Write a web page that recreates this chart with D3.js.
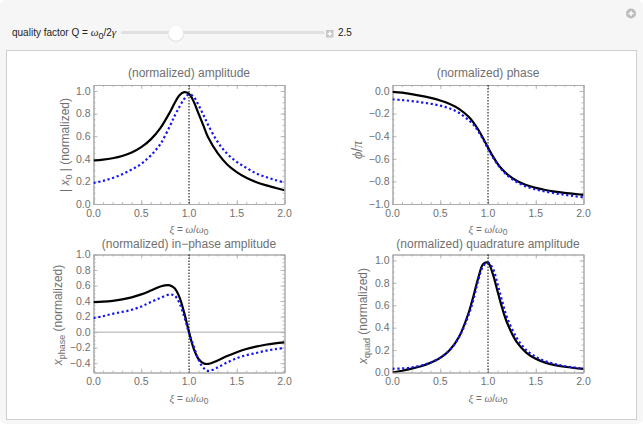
<!DOCTYPE html>
<html>
<head>
<meta charset="utf-8">
<script src="https://cdnjs.cloudflare.com/ajax/libs/d3/7.8.5/d3.min.js"></script>
<style>
  html, body { margin: 0; padding: 0; background: #fff; overflow: hidden; }
  text { font-family: "Liberation Sans", Arial, sans-serif; }
  .greek { font-family: "Liberation Serif", serif; font-style: italic; }
</style>
</head>
<body>
<div id="plot"></div>
<script>
// all the data
const xi = [0, 0.1, 0.2, 0.3, 0.4, 0.5, 0.6, 0.7, 0.8, 0.85, 0.9, 0.95, 1, 1.05, 1.1, 1.15, 1.2, 1.3, 1.4, 1.5, 1.6, 1.7, 1.8, 1.9, 2];

const ampBlack = [0.385, 0.392, 0.405, 0.425, 0.456, 0.503, 0.572, 0.672, 0.812, 0.893, 0.963, 0.99, 0.975, 0.905, 0.8, 0.695, 0.59, 0.45, 0.35, 0.282, 0.232, 0.195, 0.167, 0.144, 0.122];
const ampBlue = [0.186, 0.205, 0.23, 0.263, 0.305, 0.355, 0.43, 0.53, 0.69, 0.78, 0.86, 0.93, 0.97, 0.947, 0.875, 0.79, 0.7, 0.55, 0.444, 0.373, 0.32, 0.272, 0.24, 0.213, 0.19];

const phaseBlack = [-0.008, -0.015, -0.028, -0.043, -0.061, -0.084, -0.115, -0.16, -0.231, -0.282, -0.345, -0.42, -0.5, -0.576, -0.642, -0.695, -0.736, -0.794, -0.832, -0.857, -0.876, -0.89, -0.901, -0.91, -0.92];
const phaseBlue = [-0.074, -0.08, -0.089, -0.1, -0.113, -0.13, -0.155, -0.195, -0.26, -0.3, -0.36, -0.43, -0.51, -0.585, -0.65, -0.702, -0.745, -0.805, -0.845, -0.872, -0.89, -0.905, -0.918, -0.93, -0.94];

const inPhaseBlack = [0.387, 0.392, 0.403, 0.421, 0.448, 0.486, 0.535, 0.588, 0.603, 0.565, 0.45, 0.248, 0, -0.215, -0.346, -0.4, -0.41, -0.365, -0.308, -0.258, -0.218, -0.187, -0.163, -0.145, -0.132];
const inPhaseBlue = [0.18, 0.205, 0.236, 0.26, 0.288, 0.33, 0.387, 0.44, 0.485, 0.47, 0.374, 0.2, -0.01, -0.186, -0.357, -0.46, -0.5, -0.456, -0.39, -0.336, -0.297, -0.27, -0.241, -0.22, -0.203];

const quadBlack = [0, 0.016, 0.034, 0.056, 0.086, 0.13, 0.2, 0.324, 0.54, 0.69, 0.85, 0.968, 0.98, 0.88, 0.725, 0.571, 0.444, 0.273, 0.178, 0.122, 0.088, 0.066, 0.051, 0.04, 0.032];
const quadBlue = [0.033, 0.036, 0.045, 0.062, 0.09, 0.133, 0.2, 0.32, 0.52, 0.66, 0.83, 0.95, 0.98, 0.93, 0.79, 0.63, 0.49, 0.31, 0.2, 0.14, 0.1, 0.075, 0.058, 0.045, 0.035];

const xTicks = [0, 0.5, 1, 1.5, 2];
const xMinor = d3.range(0, 2.001, 0.1);
const yTicksUnit = [0, 0.2, 0.4, 0.6, 0.8, 1];
const yTicksPhase = [0, -0.2, -0.4, -0.6, -0.8, -1];
const yTicksInPhase = [-0.4, -0.2, 0, 0.2, 0.4, 0.6, 0.8, 1];

const sliderLabel = 'quality factor Q = ';
const qualityFactor = 2.5;

const canvas_width = 643;
const canvas_height = 427;
const grey = '#707070';
const frameGrey = '#ababab';

const svg = d3.select('#plot')
  .append('svg')
  .attr('width', canvas_width)
  .attr('height', canvas_height)
  .style('display', 'block');

// page background and the white pane
svg.append('rect')
  .attr('x', 0).attr('y', 0)
  .attr('width', canvas_width).attr('height', canvas_height - 3)
  .attr('rx', 6)
  .attr('fill', '#f6f6f6');

svg.append('rect')
  .attr('x', 6.5).attr('y', 50.5)
  .attr('width', 630).attr('height', 369)
  .attr('fill', '#fff')
  .attr('stroke', '#cfcfcf');

// slider row
const sliderScale = d3.scaleLinear().domain([0.5, 8]).range([122.5, 323]);

const labelText = svg.append('text')
  .attr('x', 12).attr('y', 36)
  .attr('font-size', 10)
  .attr('fill', '#222')
  .text(sliderLabel);
labelText.append('tspan').attr('class', 'greek').attr('font-size', 11).text('ω');
labelText.append('tspan').attr('dy', 2.5).attr('font-size', 9).text('0');
labelText.append('tspan').attr('dy', -2.5).text('/2');
labelText.append('tspan').attr('class', 'greek').attr('font-size', 11).text('γ');

svg.append('line')
  .attr('x1', sliderScale.range()[0]).attr('x2', sliderScale.range()[1])
  .attr('y1', 32.5).attr('y2', 32.5)
  .attr('stroke', '#e0e0e0')
  .attr('stroke-width', 3)
  .attr('stroke-linecap', 'round');

svg.append('circle')
  .attr('cx', sliderScale(qualityFactor)).attr('cy', 33.8)
  .attr('r', 8)
  .attr('fill', '#d4d4d4')
  .attr('opacity', 0.7);

svg.append('circle')
  .attr('cx', sliderScale(qualityFactor)).attr('cy', 33.2)
  .attr('r', 7.5)
  .attr('fill', '#fff');

function plusIcon(cx, cy, size) {
  svg.append('line').attr('x1', cx - size).attr('x2', cx + size).attr('y1', cy).attr('y2', cy)
    .attr('stroke', '#fff').attr('stroke-width', 1.4);
  svg.append('line').attr('x1', cx).attr('x2', cx).attr('y1', cy - size).attr('y2', cy + size)
    .attr('stroke', '#fff').attr('stroke-width', 1.4);
}

svg.append('rect')
  .attr('x', 326).attr('y', 30)
  .attr('width', 7.5).attr('height', 7.5)
  .attr('fill', '#c6c6c6');
plusIcon(329.75, 33.75, 2.3);

svg.append('text')
  .attr('x', 338).attr('y', 36)
  .attr('font-size', 10)
  .attr('fill', '#222')
  .text(qualityFactor);

svg.append('circle')
  .attr('cx', 631).attr('cy', 13.5)
  .attr('r', 5)
  .attr('fill', '#bdbdbd');
plusIcon(631, 13.5, 2.6);

function formatTick(d) {
  return d3.format('.1f')(d).replace('-', '\u2212');
}

// writes "xi = omega/omega0" under a plot
function xLabel(g, cx, y) {
  const t = g.append('text')
    .attr('x', cx).attr('y', y)
    .attr('text-anchor', 'middle')
    .attr('font-size', 10)
    .attr('fill', grey);
  t.append('tspan').attr('class', 'greek').attr('font-size', 11).text('ξ');
  t.append('tspan').text(' = ');
  t.append('tspan').attr('class', 'greek').attr('font-size', 11).text('ω');
  t.append('tspan').text('/');
  t.append('tspan').attr('class', 'greek').attr('font-size', 11).text('ω');
  t.append('tspan').attr('dy', 2).attr('font-size', 8.5).text('0');
}

function yLabel(g, x, cy, parts) {
  const t = g.append('text')
    .attr('transform', `translate(${x},${cy}) rotate(-90)`)
    .attr('text-anchor', 'middle')
    .attr('font-size', 12)
    .attr('fill', grey);
  parts(t);
}

function makePanel(p) {
  const g = svg.append('g');
  const xScale = d3.scaleLinear().domain([0, 2]).range([p.left, p.left + 191]);
  const yScale = d3.scaleLinear().domain(p.yDomain).range(p.yRange);
  const top = p.yRange[1];
  const bottom = p.yRange[0];
  const clipId = 'clip' + p.id;

  g.append('clipPath').attr('id', clipId)
    .append('rect')
    .attr('x', xScale(0)).attr('y', top)
    .attr('width', xScale(2) - xScale(0)).attr('height', bottom - top);

  // the axes: major and minor ticks on all four sides
  const sideAxes = [
    [d3.axisBottom(xScale).tickValues(xMinor), 0, bottom, -2],
    [d3.axisTop(xScale).tickValues(xMinor), 0, top, -2],
    [d3.axisBottom(xScale).tickValues(xTicks), 0, bottom, -4],
    [d3.axisTop(xScale).tickValues(xTicks), 0, top, -4],
    [d3.axisLeft(yScale).tickValues(p.yMinor), xScale(0), 0, -2],
    [d3.axisRight(yScale).tickValues(p.yMinor), xScale(2), 0, -2],
    [d3.axisLeft(yScale).tickValues(p.yTicks), xScale(0), 0, -4],
    [d3.axisRight(yScale).tickValues(p.yTicks), xScale(2), 0, -4],
  ];
  sideAxes.forEach((a) => {
    const ax = g.append('g')
      .attr('transform', `translate(${a[1]},${a[2]})`)
      .call(a[0].tickSize(a[3]).tickSizeOuter(0).tickFormat(''));
    ax.selectAll('line').attr('stroke', frameGrey).attr('stroke-width', 0.8);
    ax.selectAll('path').attr('stroke', frameGrey).attr('stroke-width', 1);
  });

  g.selectAll('.xtl').data(xTicks).enter().append('text')
    .attr('x', (d) => xScale(d))
    .attr('y', bottom + 12.5)
    .attr('text-anchor', 'middle')
    .attr('font-size', 10.5)
    .attr('fill', grey)
    .text(formatTick);

  g.selectAll('.ytl').data(p.yTicks).enter().append('text')
    .attr('x', xScale(0) - 3)
    .attr('y', (d) => yScale(d) + 3.8)
    .attr('text-anchor', 'end')
    .attr('font-size', 10.5)
    .attr('fill', grey)
    .text(formatTick);

  // title
  g.append('text')
    .attr('x', xScale(1))
    .attr('y', p.titleY)
    .attr('text-anchor', 'middle')
    .attr('font-size', 12)
    .attr('fill', grey)
    .text(p.title);

  xLabel(g, xScale(1), bottom + 29);
  yLabel(g, p.yLabelX, p.yLabelY, p.yText);

  if (p.zeroLine) {
    g.append('line')
      .attr('x1', xScale(0)).attr('x2', xScale(2))
      .attr('y1', yScale(0)).attr('y2', yScale(0))
      .attr('stroke', frameGrey)
      .attr('stroke-width', 1);
  }

  const line = d3.line()
    .x((d) => xScale(d[0]))
    .y((d) => yScale(d[1]))
    .curve(d3.curveCatmullRom);

  g.append('path')
    .attr('d', line(d3.zip(xi, p.black)))
    .attr('clip-path', `url(#${clipId})`)
    .attr('fill', 'none')
    .attr('stroke', '#000')
    .attr('stroke-width', 2.2);

  g.append('path')
    .attr('d', line(d3.zip(xi, p.blue)))
    .attr('clip-path', `url(#${clipId})`)
    .attr('fill', 'none')
    .attr('stroke', '#1414f0')
    .attr('stroke-width', 2.2)
    .attr('stroke-dasharray', '2.2,2.6');

  // resonance marker
  g.append('line')
    .attr('x1', xScale(1)).attr('x2', xScale(1))
    .attr('y1', top).attr('y2', bottom)
    .attr('stroke', '#000')
    .attr('stroke-width', 1)
    .attr('stroke-dasharray', '1.5,1.5');
}

const panels = [
  {
    id: 'amp', left: 93.5, yDomain: [0, 1.053], yRange: [204, 85], yTicks: yTicksUnit,
    yMinor: d3.range(0, 1.001, 0.05), titleY: 77, title: '(normalized) amplitude',
    black: ampBlack, blue: ampBlue, yLabelX: 69, yLabelY: 145,
    yText: (t) => {
      t.append('tspan').text('| ');
      t.append('tspan').attr('font-style', 'italic').text('x');
      t.append('tspan').attr('dy', 2.5).attr('font-size', 9).text('0');
      t.append('tspan').attr('dy', -2.5).text(' | (normalized)');
    },
  },
  {
    id: 'phase', left: 392.5, yDomain: [-1, 0.053], yRange: [204, 85], yTicks: yTicksPhase,
    yMinor: d3.range(-1, 0.001, 0.05), titleY: 77, title: '(normalized) phase',
    black: phaseBlack, blue: phaseBlue, yLabelX: 362, yLabelY: 150,
    yText: (t) => {
      t.attr('font-size', 14);
      t.append('tspan').attr('class', 'greek').text('ϕ');
      t.append('tspan').text('/');
      t.append('tspan').attr('class', 'greek').text('π');
    },
  },
  {
    id: 'inphase', left: 93.5, yDomain: [-0.52, 1], yRange: [372.5, 254.5], yTicks: yTicksInPhase,
    yMinor: d3.range(-0.5, 1.001, 0.05), titleY: 247.5, title: '(normalized) in\u2212phase amplitude',
    black: inPhaseBlack, blue: inPhaseBlue, yLabelX: 62, yLabelY: 315, zeroLine: true,
    yText: (t) => {
      t.append('tspan').attr('font-style', 'italic').text('x');
      t.append('tspan').attr('dy', 2.5).attr('font-size', 9).text('phase');
      t.append('tspan').attr('dy', -2.5).text(' (normalized)');
    },
  },
  {
    id: 'quad', left: 392.5, yDomain: [0, 1.053], yRange: [372.5, 254.5], yTicks: yTicksUnit,
    yMinor: d3.range(0, 1.001, 0.05), titleY: 247.5, title: '(normalized) quadrature amplitude',
    black: quadBlack, blue: quadBlue, yLabelX: 367, yLabelY: 316,
    yText: (t) => {
      t.append('tspan').attr('font-style', 'italic').text('x');
      t.append('tspan').attr('dy', 2.5).attr('font-size', 9).text('quad');
      t.append('tspan').attr('dy', -2.5).text(' (normalized)');
    },
  },
];

panels.forEach(makePanel);
</script>
</body>
</html>
